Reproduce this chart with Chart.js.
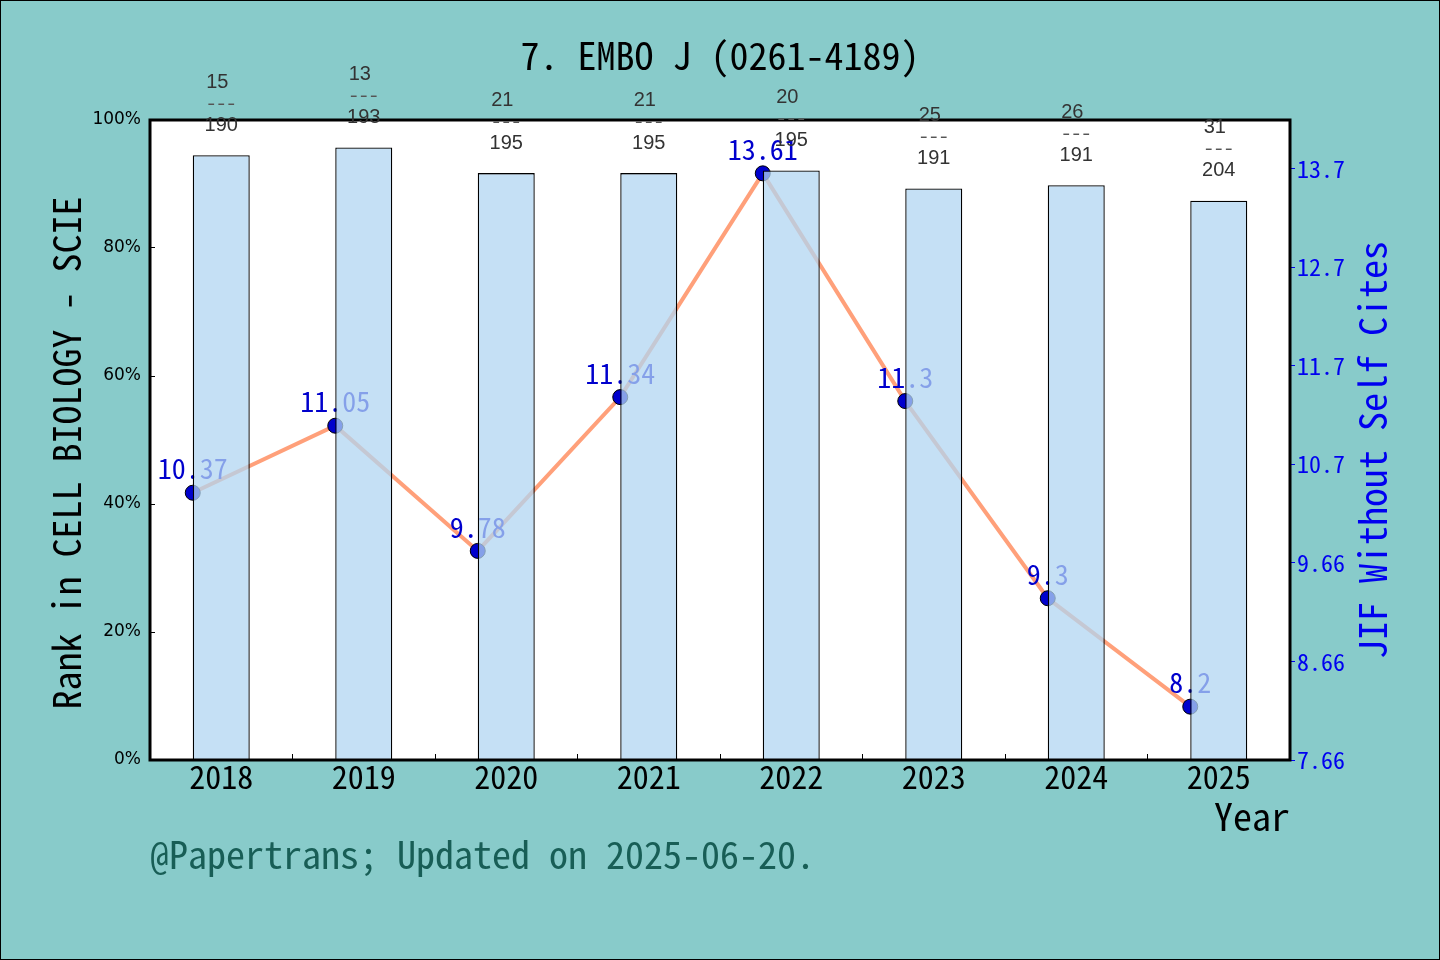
<!DOCTYPE html>
<html><head><meta charset="utf-8">
<script src="https://cdn.jsdelivr.net/npm/chart.js@4.4.1/dist/chart.umd.min.js"></script>
<style>html,body{margin:0;padding:0;background:#88CBCA;}canvas{display:block;}</style>
</head><body>
<canvas id="c" width="1440" height="960"></canvas>
<script>
const chartTitle = '7. EMBO J (0261-4189)';
const leftTitle = 'Rank in CELL BIOLOGY - SCIE';
const rightTitle = 'JIF Without Self Cites';
const xTitle = 'Year';
const footer = '@Papertrans; Updated on 2025-06-20.';
const years = ['2018','2019','2020','2021','2022','2023','2024','2025'];
const rankPercent = [94.5, 95.7, 91.7, 91.7, 92.1, 89.3, 89.8, 87.4];
const rankPos = [15, 13, 21, 21, 20, 25, 26, 31];
const categoryTotal = [190, 193, 195, 195, 195, 191, 191, 204];
const jifNoSelf = [10.37, 11.05, 9.78, 11.34, 13.61, 11.3, 9.3, 8.2];
const leftTickValues = [0, 20, 40, 60, 80, 100];

const MONO = "'Noto Sans Mono CJK SC', 'DejaVu Sans Mono', monospace";
const barFrac = 0.4;
const jMin = Math.min(...jifNoSelf), jMax = Math.max(...jifNoSelf);
const jPad = (jMax - jMin) * 0.1;
const rMin = jMin - jPad, rMax = jMax + jPad;

const drawPlugin = {
  id: 'drawPlugin',
  beforeDraw(chart) {
    const {ctx, chartArea: a} = chart;
    ctx.save();
    ctx.fillStyle = '#88CBCA';
    ctx.fillRect(0, 0, chart.width, chart.height);
    ctx.fillStyle = '#FFFFFF';
    ctx.fillRect(a.left, a.top, a.right - a.left, a.bottom - a.top);
    ctx.restore();
  },
  afterDatasetDraw(chart, args) {
    if (args.meta.type !== 'line') return;
    const ctx = chart.ctx;
    ctx.save();
    ctx.font = '28px ' + MONO;
    ctx.fillStyle = '#0000CD';
    ctx.textAlign = 'center';
    ctx.textBaseline = 'middle';
    args.meta.data.forEach((p, i) => {
      ctx.fillText(String(jifNoSelf[i]), p.x, p.y - 24);
    });
    ctx.restore();
  },
  afterDraw(chart) {
    const {ctx, chartArea: a} = chart;
    ctx.save();
    // frame
    ctx.strokeStyle = '#000';
    ctx.lineWidth = 3;
    ctx.strokeRect(a.left, a.top, a.right - a.left, a.bottom - a.top);
    ctx.lineWidth = 1;
    ctx.strokeRect(0.5, 0.5, chart.width - 1, chart.height - 1);
    // rank labels above bars
    const bm = chart.getDatasetMeta(0);
    ctx.textAlign = 'center';
    ctx.textBaseline = 'middle';
    bm.data.forEach((b, i) => {
      ctx.fillStyle = '#333333';
      ctx.font = "20px 'Liberation Sans', Arial, sans-serif";
      ctx.fillText(String(rankPos[i]), b.x - 4, b.y - 73);
      ctx.fillText(String(categoryTotal[i]), b.x, b.y - 30);
      ctx.fillStyle = '#555555';
      ctx.font = '20px ' + MONO;
      ctx.fillText('---', b.x, b.y - 53);
    });
    // titles
    ctx.fillStyle = '#000';
    ctx.font = '38px ' + MONO;
    ctx.fillText(chartTitle, 720, 56);
    ctx.save();
    ctx.translate(67, 453);
    ctx.rotate(-Math.PI / 2);
    ctx.fillText(leftTitle, 0, 0);
    ctx.restore();
    ctx.save();
    ctx.translate(1373, 450);
    ctx.rotate(-Math.PI / 2);
    ctx.fillStyle = '#0000F0';
    ctx.fillText(rightTitle, 0, 0);
    ctx.restore();
    ctx.textAlign = 'right';
    ctx.fillText(xTitle, a.right, 817);
    ctx.textAlign = 'left';
    ctx.fillStyle = '#185E56';
    ctx.fillText(footer, a.left, 855);
    ctx.restore();
  }
};

new Chart(document.getElementById('c'), {
  data: {
    labels: years,
    datasets: [
      {
        type: 'bar',
        data: rankPercent,
        xAxisID: 'x',
        yAxisID: 'y',
        backgroundColor: 'rgba(177,213,242,0.75)',
        borderColor: '#000000',
        borderWidth: 1.3,
        borderSkipped: 'bottom',
        grouped: false,
        barPercentage: barFrac,
        categoryPercentage: 1.0,
        order: 1
      },
      {
        type: 'line',
        data: jifNoSelf.map((v, i) => ({x: i - barFrac / 2, y: v})),
        xAxisID: 'xl',
        yAxisID: 'yr',
        borderColor: '#FFA07A',
        borderWidth: 4,
        pointRadius: 7.5,
        pointBackgroundColor: '#0000CD',
        pointBorderColor: '#000000',
        pointBorderWidth: 1,
        tension: 0,
        order: 2
      }
    ]
  },
  options: {
    responsive: false,
    devicePixelRatio: 1,
    animation: false,
    layout: {padding: {top: 120, left: 0, right: 0, bottom: 0}},
    plugins: {legend: {display: false}, title: {display: false}, tooltip: {enabled: false}},
    scales: {
      x: {
        type: 'category',
        position: 'bottom',
        offset: true,
        border: {display: false},
        grid: {display: true, offset: true, drawOnChartArea: false, drawTicks: true, tickLength: -6, color: '#000', lineWidth: 1},
        ticks: {padding: 4, color: '#000', font: {family: MONO, size: 32}, maxRotation: 0},
        afterFit(s) { s.height = 200; }
      },
      xl: {
        type: 'linear',
        display: false,
        min: -0.5,
        max: years.length - 0.5
      },
      y: {
        type: 'linear',
        position: 'left',
        min: 0,
        max: 100,
        border: {display: false},
        grid: {display: true, drawOnChartArea: false, drawTicks: true, tickLength: -5, color: '#000'},
        afterBuildTicks(s) { s.ticks = leftTickValues.map(v => ({value: v})); },
        ticks: {padding: 14, color: '#000', font: {family: "'DejaVu Sans', Verdana, sans-serif", size: 17}, callback: v => v + '%'},
        afterFit(s) { s.width = 150; }
      },
      yr: {
        type: 'linear',
        position: 'right',
        min: rMin,
        max: rMax,
        border: {display: false},
        grid: {display: true, drawOnChartArea: false, drawTicks: true, tickLength: 5, color: '#0000F0'},
        afterBuildTicks(s) {
          const t = [];
          for (let v = rMin; v <= rMax + 1e-9; v += 1) t.push({value: v});
          s.ticks = t;
        },
        ticks: {padding: 2, color: '#0000F0', font: {family: MONO, size: 24}, callback: v => Number(v).toPrecision(3)},
        afterFit(s) { s.width = 150; }
      }
    }
  },
  plugins: [drawPlugin]
});
</script>
</body></html>
